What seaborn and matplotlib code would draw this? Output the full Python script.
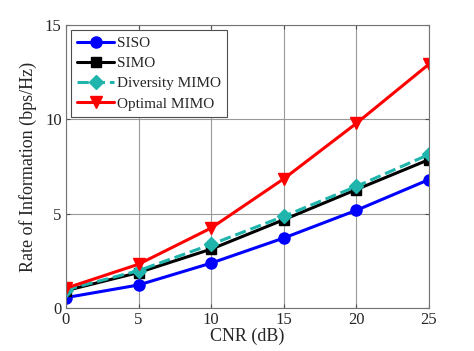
import matplotlib
matplotlib.use("Agg")
import matplotlib.pyplot as plt
import seaborn as sns
import numpy as np

# data
cnr_db = [0, 5, 10, 15, 20, 25]
siso = [0.55, 1.22, 2.38, 3.71, 5.18, 6.81]
simo = [0.92, 1.88, 3.12, 4.68, 6.28, 7.87]
diversity_mimo = [0.97, 1.98, 3.37, 4.86, 6.45, 8.14]
optimal_mimo = [1.05, 2.32, 4.24, 6.85, 9.79, 12.93]

sns.set_style("ticks")
plt.rcParams['font.family'] = ['Liberation Serif', 'DejaVu Serif']
plt.rcParams['mathtext.fontset'] = 'stix'

fig = plt.figure(figsize=(4.74, 3.51), dpi=100)
ax = fig.add_axes([0.139, 0.1225, 0.766, 0.806])

series = [
    ("SISO", siso, "#0000ff", "o", "-", 8),
    ("SIMO", simo, "#000000", "s", "-", 7),
    ("Diversity MIMO", diversity_mimo, "#1fb5ad", "D", "--", 7),
    ("Optimal MIMO", optimal_mimo, "#ff0000", "v", "-", 9),
]
for name, vals, col, mk, ls, ms in series:
    sns.lineplot(x=cnr_db, y=vals, ax=ax, color=col, marker=mk, markersize=ms,
                 linestyle=ls, linewidth=2.2, markeredgecolor=col,
                 markeredgewidth=1, label=name)

ax.set_xlim(0, 25)
ax.set_ylim(0, 15)
ax.set_xticks([0, 5, 10, 15, 20, 25])
ax.set_yticks([0, 5, 10, 15])
ax.grid(True, color='0.6', linewidth=0.8)
ax.tick_params(direction='in', top=True, right=True, labelsize=12, length=3,
               color='0.3', pad=3)
for sp in ax.spines.values():
    sp.set_color('0.45')
    sp.set_linewidth(0.8)

ax.set_xlabel("CNR (dB)", fontsize=13, labelpad=0)
ax.set_ylabel("Rate of Information (bps/Hz)", fontsize=13, labelpad=6)

leg = ax.legend(loc='upper left', fontsize=11, frameon=True, fancybox=False,
                borderaxespad=0.35, handlelength=2.4, handletextpad=0.2,
                labelspacing=0.42, borderpad=0.4)
leg.get_frame().set_edgecolor('0.3')
leg.get_frame().set_linewidth(0.8)
leg.get_frame().set_alpha(1)

fig.savefig("out.png", dpi=100)
